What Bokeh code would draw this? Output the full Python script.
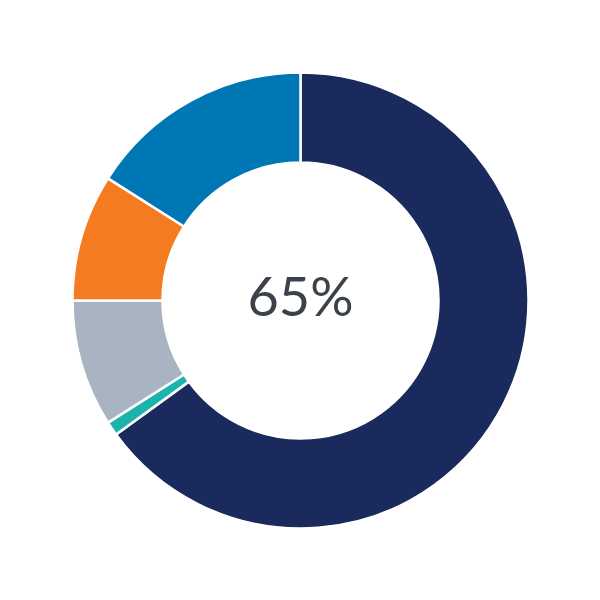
import numpy as np
from bokeh.plotting import figure
from bokeh.models import ColumnDataSource
from bokeh.core.properties import value
from bokeh.embed import file_html
from bokeh.resources import INLINE

categories = ["Navy", "Teal", "Gray", "Orange", "Blue"]
shares = [65, 1, 9, 9, 16]
colors = ["#1b2a5c", "#1db3ad", "#a9b4c3", "#f47b20", "#0077b5"]
center_label = ["65%"]

vals = np.array(shares, dtype=float)
frac = vals / vals.sum()
cum_end = np.cumsum(frac)
cum_start = cum_end - frac
start = np.pi / 2 - cum_start * 2 * np.pi
end = np.pi / 2 - cum_end * 2 * np.pi

src = ColumnDataSource(dict(cat=categories, start=start, end=end, color=colors))

p = figure(width=584, height=584, x_range=(-300, 284), y_range=(-284, 300),
           output_backend="svg", toolbar_location=None, min_border=0)
p.axis.visible = False
p.grid.visible = False
p.outline_line_color = None
p.background_fill_color = "white"
p.border_fill_color = "white"

p.annular_wedge(x=0, y=0, inner_radius=138, outer_radius=228,
                start_angle="start", end_angle="end", direction="clock",
                fill_color="color", line_color="white", line_width=2.5, source=src)

p.text(x=[0], y=[5], text=center_label, text_align="center", text_baseline="middle",
       text_font=value("Lato"), text_font_size="54px", text_color="#3b4249")

open("out.html", "w").write(file_html(p, INLINE))
